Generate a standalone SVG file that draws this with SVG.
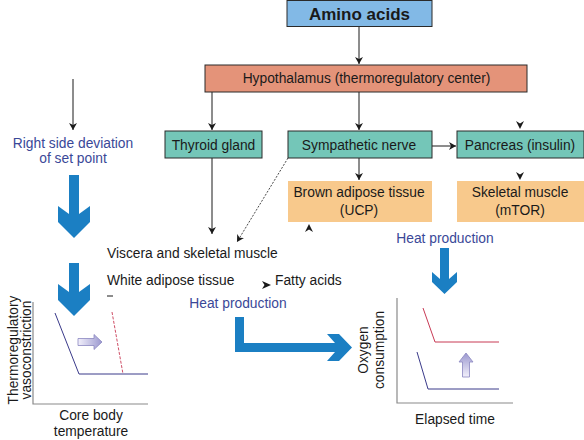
<svg xmlns="http://www.w3.org/2000/svg" width="584" height="440" viewBox="0 0 584 440">
<defs>
<style>
text{font-family:"Liberation Sans",Arial,sans-serif;font-size:13.8px;fill:#1a1a1a}
.c{text-anchor:middle}
.blue{fill:#3a4898}
.box{stroke:#2a2a2a;stroke-width:1}
.ln{stroke:#1a1a1a;stroke-width:1;fill:none}
.big{fill:#1b7fc3}
.ax{stroke:#8a8a8a;stroke-width:1.2;fill:none}
.tip{fill:#1a1a1a}
</style>
<marker id="ah" markerWidth="8" markerHeight="8" refX="7" refY="4" orient="auto" markerUnits="userSpaceOnUse">
<path d="M0,0 L7,4 L0,8 L2,4 Z" fill="#1a1a1a"/>
</marker>
<linearGradient id="lav" x1="0" y1="0" x2="1" y2="0">
<stop offset="0" stop-color="#f2f0fb"/><stop offset="1" stop-color="#9b98cf"/>
</linearGradient>
<linearGradient id="lavv" x1="0" y1="1" x2="0" y2="0">
<stop offset="0" stop-color="#f2f0fb"/><stop offset="1" stop-color="#9b98cf"/>
</linearGradient>
</defs>
<rect width="584" height="440" fill="#ffffff"/>

<g id="connectors">
<line class="ln" x1="359" y1="26" x2="359" y2="64" marker-end="url(#ah)"/>
<line class="ln" x1="212" y1="92" x2="212" y2="130" marker-end="url(#ah)"/>
<line class="ln" x1="359" y1="92" x2="359" y2="130" marker-end="url(#ah)"/>
<path class="tip" d="M516,121 L520,129 L524,121 L520,123.5 Z"/>
<line class="ln" x1="432" y1="146" x2="456" y2="146" marker-end="url(#ah)"/>
<line class="ln" x1="359" y1="158" x2="359" y2="180" marker-end="url(#ah)"/>
<path class="tip" d="M516,172 L520,180 L524,172 L520,174.5 Z"/>
<path class="tip" d="M305,232 L309,224 L313,232 L309,229.5 Z"/>
<line class="ln" x1="73" y1="79" x2="73" y2="130" marker-end="url(#ah)"/>
<line class="ln" x1="212" y1="158" x2="212" y2="234" marker-end="url(#ah)"/>
<line x1="288" y1="158" x2="237" y2="242" stroke="#1a1a1a" stroke-width="0.8" stroke-dasharray="2,1.5" marker-end="url(#ah)"/>
<path class="tip" d="M262,281 L271,285 L262,289 L264.5,285 Z"/>
<line x1="107" y1="296" x2="113" y2="296" stroke="#1a1a1a" stroke-width="1"/>
<polygon class="big" points="69,175 79,175 79,214 90,206 90,222 74,238 58,222 58,206 69,214"/>
<polygon class="big" points="69,263 79,263 79,292 90,284 90,300 74,316 58,300 58,284 69,292"/>
<polygon class="big" points="440,248 449,248 449,279 457,272 457,282 444.5,294 432,282 432,272 440,279"/>
<polygon class="big" points="235,317 244,317 244,343 335,343 327,334 339,334 352,347.5 339,361 327,361 335,352 235,352"/>
</g>

<g id="amino-acids">
<rect class="box" x="287" y="0.5" width="145" height="26" fill="#82b9e6"/>
<text class="c" x="359.5" y="20" style="font-size:17px;font-weight:bold">Amino acids</text>
</g>
<g id="hypothalamus">
<rect class="box" x="205" y="65" width="322" height="27" fill="#e49379"/>
<text class="c" x="366.5" y="83">Hypothalamus (thermoregulatory center)</text>
</g>
<g id="thyroid">
<rect class="box" x="165" y="131" width="97" height="27" fill="#74c6b8"/>
<text class="c" x="213.5" y="150">Thyroid gland</text>
</g>
<g id="sympathetic">
<rect class="box" x="288" y="131" width="144" height="27" fill="#74c6b8"/>
<text class="c" x="359" y="150">Sympathetic nerve</text>
</g>
<g id="pancreas">
<rect class="box" x="457" y="131" width="127" height="27" fill="#74c6b8"/>
<text class="c" x="520" y="150">Pancreas (insulin)</text>
</g>
<g id="brown-adipose">
<rect x="288" y="181" width="144" height="41" fill="#f8c98c"/>
<text class="c" x="359" y="197">Brown adipose tissue</text>
<text class="c" x="359" y="215">(UCP)</text>
</g>
<g id="skeletal-muscle">
<rect x="457" y="181" width="127" height="41" fill="#f8c98c"/>
<text class="c" x="520" y="197">Skeletal muscle</text>
<text class="c" x="520" y="215">(mTOR)</text>
</g>

<g id="labels">
<text class="c blue" x="73" y="148">Right side deviation</text>
<text class="c blue" x="73" y="163">of set point</text>
<text x="107" y="258">Viscera and skeletal muscle</text>
<text x="107" y="285">White adipose tissue</text>
<text x="275" y="285">Fatty acids</text>
<text class="c blue" x="238" y="308">Heat production</text>
<text class="c blue" x="445" y="243">Heat production</text>
</g>

<g id="left-chart">
<polyline class="ax" points="33,302 33,404 148,404"/>
<polyline points="55,313 79,374 148,374" fill="none" stroke="#3a3a8a" stroke-width="1"/>
<line x1="112" y1="312" x2="123" y2="374" stroke="#c83a55" stroke-width="0.9" stroke-dasharray="3,1.5"/>
<polygon points="78,338.5 94,338.5 94,334.5 102,342 94,349.5 94,345.5 78,345.5" fill="url(#lav)" stroke="#8a86c0" stroke-width="0.8"/>
<text class="c" transform="translate(18,350) rotate(-90)">Thermoregulatory</text>
<text class="c" transform="translate(31,350) rotate(-90)">vasoconstriction</text>
<text class="c" x="91" y="420">Core body</text>
<text class="c" x="91" y="436">temperature</text>
</g>

<g id="right-chart">
<polyline class="ax" points="397,298 397,403 513,403"/>
<polyline points="423,308 435,342 499,342" fill="none" stroke="#c83a55" stroke-width="1"/>
<polyline points="417,352 428,389 499,389" fill="none" stroke="#3a3a8a" stroke-width="1"/>
<polygon points="462.5,377 462.5,362 459,362 466,353 473,362 469.5,362 469.5,377" fill="url(#lavv)" stroke="#8a86c0" stroke-width="0.8"/>
<text class="c" transform="translate(368,350) rotate(-90)">Oxygen</text>
<text class="c" transform="translate(384,350) rotate(-90)">consumption</text>
<text class="c" x="455" y="424">Elapsed time</text>
</g>
</svg>
